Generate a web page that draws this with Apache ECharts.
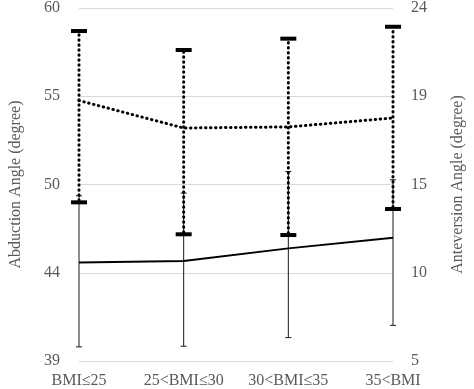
<!DOCTYPE html>
<html><head><meta charset="utf-8">
<script src="https://cdn.jsdelivr.net/npm/echarts@6/dist/echarts.min.js"></script>
<style>html,body{margin:0;padding:0;background:#fff}#c{width:474px;height:389px}</style>
</head><body><div id="c"></div>
<script>
const categories = ['BMI≤25', '25<BMI≤30', '30<BMI≤35', '35<BMI'];
const abdMean = [44.86, 44.95, 45.7, 46.33];
const abdHigh = [48.83, 48.99, 50.27, 49.78];
const abdLow  = [39.84, 39.88, 40.39, 41.12];
const antMean = [19.02, 17.54, 17.6, 18.08];
const antHigh = [22.76, 21.74, 22.35, 22.99];
const antLow  = [13.54, 11.82, 11.78, 13.18];
const leftTicks = [39, 44, 50, 55, 60];
const rightTicks = [5, 10, 15, 19, 24];

const LMIN = 39, LMAX = 60, LINT = (LMAX - LMIN) / 4;
const RMIN = 5, RMAX = 24, RINT = (RMAX - RMIN) / 4;
const FONT = '"Liberation Serif", "Times New Roman", serif';
const GREY = '#595959';
const DOT = [0.5, 4.5];

function errItem(thick) {
  return function (params, api) {
    const x = api.value(0);
    const p1 = api.coord([x, api.value(1)]);
    const p2 = api.coord([x, api.value(2)]);
    const children = [];
    if (thick) {
      children.push({type: 'line', shape: {x1: p1[0], y1: p1[1] - 2, x2: p2[0], y2: p2[1] + 2},
        style: {stroke: '#000', lineWidth: 3, lineDash: DOT, lineCap: 'round'}});
      children.push({type: 'rect', shape: {x: p2[0] - 8, y: p2[1] - 2, width: 16, height: 4}, style: {fill: '#000'}});
      children.push({type: 'rect', shape: {x: p1[0] - 8, y: p1[1] - 2, width: 16, height: 4}, style: {fill: '#000'}});
    } else {
      children.push({type: 'line', shape: {x1: p1[0], y1: p1[1], x2: p2[0], y2: p2[1]},
        style: {stroke: '#1a1a1a', lineWidth: 1}});
      children.push({type: 'line', shape: {x1: p1[0] - 3, y1: p1[1], x2: p1[0] + 3, y2: p1[1]}, style: {stroke: '#1a1a1a', lineWidth: 1}});
      children.push({type: 'line', shape: {x1: p2[0] - 3, y1: p2[1], x2: p2[0] + 3, y2: p2[1]}, style: {stroke: '#1a1a1a', lineWidth: 1}});
    }
    return {type: 'group', children};
  };
}

const chart = echarts.init(document.getElementById('c'));
chart.setOption({
  animation: false,
  backgroundColor: '#fff',
  grid: {left: 64, right: 68, top: 5, bottom: 28, containLabel: false},
  xAxis: {
    type: 'category', data: categories, boundaryGap: false,
    axisLine: {show: false}, axisTick: {show: false},
    axisLabel: {color: GREY, fontFamily: FONT, fontSize: 16, margin: 12, interval: 0}
  },
  yAxis: [{
    type: 'value', min: LMIN, max: LMAX, interval: LINT,
    name: 'Abduction Angle (degree)', nameLocation: 'middle', nameGap: 55, nameRotate: 90,
    nameTextStyle: {color: GREY, fontFamily: FONT, fontSize: 16},
    axisLine: {show: false}, axisTick: {show: false},
    axisLabel: {color: GREY, fontFamily: FONT, fontSize: 16, margin: 19,
      formatter: v => String(leftTicks[Math.round((v - LMIN) / LINT)])},
    splitLine: {lineStyle: {color: '#d9d9d9', width: 1}}
  }, {
    type: 'value', min: RMIN, max: RMAX, interval: RINT,
    name: 'Anteversion Angle (degree)', nameLocation: 'middle', nameGap: 57, nameRotate: 90,
    nameTextStyle: {color: GREY, fontFamily: FONT, fontSize: 16},
    axisLine: {show: false}, axisTick: {show: false},
    axisLabel: {color: GREY, fontFamily: FONT, fontSize: 16, margin: 18,
      formatter: v => String(rightTicks[Math.round((v - RMIN) / RINT)])},
    splitLine: {show: false}
  }],
  series: [{
    type: 'custom', yAxisIndex: 0, renderItem: errItem(false), z: 2,
    encode: {x: 0, y: [1, 2]},
    data: categories.map((c, i) => [i, abdLow[i], abdHigh[i]])
  }, {
    type: 'custom', yAxisIndex: 1, renderItem: errItem(true), z: 3,
    encode: {x: 0, y: [1, 2]},
    data: categories.map((c, i) => [i, antLow[i], antHigh[i]])
  }, {
    type: 'line', yAxisIndex: 0, data: abdMean, symbol: 'none', z: 4,
    lineStyle: {color: '#000', width: 2}
  }, {
    type: 'line', yAxisIndex: 1, data: antMean, symbol: 'none', z: 4,
    lineStyle: {color: '#000', width: 3, type: DOT, cap: 'round'}
  }]
});
</script></body></html>
